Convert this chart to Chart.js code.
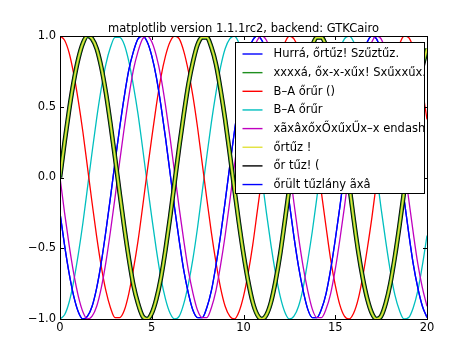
<!DOCTYPE html>
<html><head><meta charset="utf-8">
<script src="https://cdn.jsdelivr.net/npm/chart.js@4/dist/chart.umd.min.js"></script>
<style>html,body{margin:0;padding:0;background:#fff;}canvas{display:block;}</style>
</head><body>
<canvas id="c" width="474" height="355"></canvas>
<script>
const titleText = 'matplotlib version 1.1.1rc2, backend: GTKCairo';
const seriesLabels = ['Hurrá, őrtűz! Szűztűz.', 'xxxxá, őx-x-xűx! Sxűxxűx.', 'B–A őrűr ()', 'B–A őrűr',
  'xãxâxőxŐxűxŰx–x endash', 'őrtűz !', 'őr tűz! (', 'őrült tűzlány ãxâ'];
const xTickLabels = ['0', '5', '10', '15', '20'];
const yTickLabels = ['−1.0', '−0.5', '0.0', '0.5', '1.0'];

const xValues = [0,0.25,0.5,0.75,1,1.25,1.5,1.75,2,2.25,2.5,2.75,3,3.25,3.5,3.75,4,4.25,4.5,4.75,
  5,5.25,5.5,5.75,6,6.25,6.5,6.75,7,7.25,7.5,7.75,8,8.25,8.5,8.75,9,9.25,9.5,9.75,
  10,10.25,10.5,10.75,11,11.25,11.5,11.75,12,12.25,12.5,12.75,13,13.25,13.5,13.75,14,14.25,14.5,14.75,
  15,15.25,15.5,15.75,16,16.25,16.5,16.75,17,17.25,17.5,17.75,18,18.25,18.5,18.75,19,19.25,19.5,19.75,20];

const blueValues = [-0.25,-0.48,-0.68,-0.84,-0.95,-1.00,-0.98,-0.91,-0.78,-0.60,
  -0.38,-0.14,0.11,0.35,0.57,0.76,0.89,0.98,1.00,0.96,
  0.86,0.71,0.51,0.28,0.03,-0.22,-0.45,-0.66,-0.82,-0.94,
  -0.99,-0.99,-0.92,-0.80,-0.62,-0.41,-0.17,0.08,0.32,0.54,
  0.73,0.88,0.97,1.00,0.97,0.88,0.73,0.54,0.31,0.07,
  -0.18,-0.42,-0.63,-0.80,-0.93,-0.99,-0.99,-0.93,-0.82,-0.65,
  -0.44,-0.21,0.04,0.29,0.52,0.71,0.86,0.96,1.00,0.98,
  0.89,0.75,0.56,0.34,0.10,-0.15,-0.39,-0.61,-0.78,-0.91,
  -0.99];
const greenValues = [0,0.25,0.48,0.68,0.84,0.95,1.00,0.98,0.91,0.78,
  0.60,0.38,0.14,-0.11,-0.35,-0.57,-0.76,-0.89,-0.98,-1.00,
  -0.96,-0.86,-0.71,-0.51,-0.28,-0.03,0.22,0.45,0.66,0.82,
  0.94,0.99,0.99,0.92,0.80,0.62,0.41,0.17,-0.08,-0.32,
  -0.54,-0.73,-0.88,-0.97,-1.00,-0.97,-0.88,-0.73,-0.54,-0.31,
  -0.07,0.18,0.42,0.63,0.80,0.93,0.99,0.99,0.93,0.82,
  0.65,0.44,0.21,-0.04,-0.29,-0.52,-0.71,-0.86,-0.96,-1.00,
  -0.98,-0.89,-0.75,-0.56,-0.34,-0.10,0.15,0.39,0.61,0.78,
  0.91];
const redValues = [1.00,0.97,0.88,0.73,0.54,0.32,0.07,-0.18,-0.42,-0.63,
  -0.80,-0.92,-0.99,-0.99,-0.94,-0.82,-0.65,-0.45,-0.21,0.04,
  0.28,0.51,0.71,0.86,0.96,1.00,0.98,0.89,0.75,0.57,
  0.35,0.10,-0.15,-0.39,-0.60,-0.78,-0.91,-0.98,-1.00,-0.95,
  -0.84,-0.68,-0.48,-0.24,0.00,0.25,0.48,0.68,0.84,0.95,
  1.00,0.98,0.91,0.78,0.59,0.38,0.14,-0.11,-0.35,-0.58,
  -0.76,-0.90,-0.98,-1.00,-0.96,-0.86,-0.70,-0.50,-0.28,-0.03,
  0.22,0.45,0.66,0.83,0.94,1.00,0.99,0.92,0.80,0.62,
  0.41];
const cyanValues = [-1.00,-0.97,-0.88,-0.73,-0.54,-0.32,-0.07,0.18,0.42,0.63,
  0.80,0.92,0.99,0.99,0.94,0.82,0.65,0.45,0.21,-0.04,
  -0.28,-0.51,-0.71,-0.86,-0.96,-1.00,-0.98,-0.89,-0.75,-0.57,
  -0.35,-0.10,0.15,0.39,0.60,0.78,0.91,0.98,1.00,0.95,
  0.84,0.68,0.48,0.24,0.00,-0.25,-0.48,-0.68,-0.84,-0.95,
  -1.00,-0.98,-0.91,-0.78,-0.59,-0.38,-0.14,0.11,0.35,0.58,
  0.76,0.90,0.98,1.00,0.96,0.86,0.70,0.50,0.28,0.03,
  -0.22,-0.45,-0.66,-0.83,-0.94,-1.00,-0.99,-0.92,-0.80,-0.62,
  -0.41];
const magentaValues = [0,-0.25,-0.48,-0.68,-0.84,-0.95,-1.00,-0.98,-0.91,-0.78,
  -0.60,-0.38,-0.14,0.11,0.35,0.57,0.76,0.89,0.98,1.00,
  0.96,0.86,0.71,0.51,0.28,0.03,-0.22,-0.45,-0.66,-0.82,
  -0.94,-0.99,-0.99,-0.92,-0.80,-0.62,-0.41,-0.17,0.08,0.32,
  0.54,0.73,0.88,0.97,1.00,0.97,0.88,0.73,0.54,0.31,
  0.07,-0.18,-0.42,-0.63,-0.80,-0.93,-0.99,-0.99,-0.93,-0.82,
  -0.65,-0.44,-0.21,0.04,0.29,0.52,0.71,0.86,0.96,1.00,
  0.98,0.89,0.75,0.56,0.34,0.10,-0.15,-0.39,-0.61,-0.78,
  -0.91];
// yellow and black curves lie on the green one in the picture
const yellowValues = greenValues;
const blackValues = greenValues;
const blue2Values = blueValues;

const seriesValues = [blueValues, greenValues, redValues, cyanValues, magentaValues, yellowValues, blackValues, blue2Values];
const seriesColors = ['#0000ff', '#1f8f1f', '#ff0000', '#00bfbf', '#bf00bf', '#e2e23c', '#000000', '#0000ff'];
const seriesWidths = [1.3, 3.0, 1.3, 1.3, 1.3, 1.7, 4.6, 1.3];
const seriesOrder = [5, 2, 6, 7, 4, 1, 3, 5];

const FONT = "'DejaVu Sans', sans-serif";

const mplDecor = {
  id: 'mplDecor',
  afterDatasetsDraw(chart) {
    const ctx = chart.ctx;
    const a = chart.chartArea;
    const xs = chart.scales.x, ys = chart.scales.y;
    ctx.save();
    ctx.strokeStyle = '#000';
    ctx.lineWidth = 1;
    ctx.beginPath();
    xs.ticks.forEach(t => {
      const px = Math.round(xs.getPixelForValue(t.value)) + 0.5;
      ctx.moveTo(px, a.bottom); ctx.lineTo(px, a.bottom - 4);
      ctx.moveTo(px, a.top); ctx.lineTo(px, a.top + 4);
    });
    ys.ticks.forEach(t => {
      const py = Math.round(ys.getPixelForValue(t.value)) + 0.5;
      ctx.moveTo(a.left, py); ctx.lineTo(a.left + 4, py);
      ctx.moveTo(a.right, py); ctx.lineTo(a.right - 4, py);
    });
    ctx.stroke();
    ctx.strokeRect(Math.round(a.left) + 0.5, Math.round(a.top) + 0.5,
      Math.round(a.right - a.left), Math.round(a.bottom - a.top));
    const bw = 189, bh = 151;
    const bx = Math.round(a.right) - 3 - bw + 0.5;
    const by = Math.round(a.top) + 6 + 0.5;
    ctx.fillStyle = '#fff';
    ctx.fillRect(bx, by, bw, bh);
    ctx.strokeRect(bx, by, bw, bh);
    ctx.font = '11.5px ' + FONT;
    ctx.textBaseline = 'middle';
    ctx.textAlign = 'left';
    chart.data.datasets.forEach((ds, i) => {
      const y = by + 11.5 + i * 18.65;
      ctx.beginPath();
      ctx.strokeStyle = ds.borderColor;
      ctx.lineWidth = 1.4;
      ctx.moveTo(bx + 7, y); ctx.lineTo(bx + 27, y);
      ctx.stroke();
      ctx.fillStyle = '#000';
      ctx.fillText(ds.label, bx + 38, y + 0.5);
    });
    ctx.restore();
  }
};

new Chart(document.getElementById('c'), {
  type: 'line',
  data: {
    datasets: seriesValues.map((vals, i) => ({
      label: seriesLabels[i],
      data: vals.map((v, j) => ({ x: xValues[j], y: v })),
      borderColor: seriesColors[i],
      backgroundColor: seriesColors[i],
      borderWidth: seriesWidths[i],
      order: seriesOrder[i],
      pointRadius: 0,
      fill: false,
      cubicInterpolationMode: 'monotone'
    }))
  },
  options: {
    responsive: false,
    animation: false,
    events: [],
    layout: { padding: { left: 0, right: 47, top: 0, bottom: 0 } },
    plugins: {
      legend: { display: false },
      tooltip: { enabled: false },
      title: {
        display: true,
        text: titleText,
        fullSize: false,
        color: '#000',
        font: { family: FONT, size: 11.5, weight: 'normal', lineHeight: 1.2 },
        padding: { top: 22, bottom: 0.2 }
      }
    },
    scales: {
      x: {
        type: 'linear', min: 0, max: 20,
        grid: { display: false, drawTicks: false },
        border: { display: false },
        ticks: {
          stepSize: 5, color: '#000', padding: 2,
          font: { family: FONT, size: 11.5 },
          callback: (v, i) => xTickLabels[i]
        },
        afterFit: s => { s.height = 36; }
      },
      y: {
        min: -1, max: 1,
        grid: { display: false, drawTicks: false },
        border: { display: false },
        ticks: {
          stepSize: 0.5, color: '#000', padding: 4,
          font: { family: FONT, size: 11.5 },
          callback: (v, i) => yTickLabels[i]
        },
        afterFit: s => { s.width = 60; }
      }
    }
  },
  plugins: [mplDecor]
});
</script>
</body></html>
